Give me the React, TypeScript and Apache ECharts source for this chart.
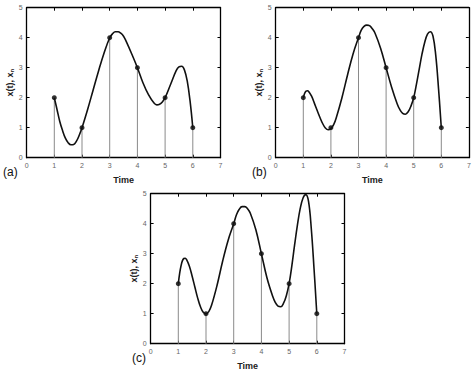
import React, { useEffect, useRef } from "react";
import * as echarts from "echarts";

const sampleT = [1, 2, 3, 4, 5, 6];
const sampleX = [2, 1, 4, 3, 2, 1];
const xTicks = [0, 1, 2, 3, 4, 5, 6, 7];
const yTicks = [0, 1, 2, 3, 4, 5];
const panelLabels = ["(a)", "(b)", "(c)"];

const curveA: number[][] = [
  [1.0, 2.0], [1.1, 1.6], [1.2, 1.2], [1.3, 0.9], [1.4, 0.65], [1.5, 0.5], [1.6, 0.43], [1.7, 0.44],
  [1.8, 0.55], [1.9, 0.75], [2.0, 1.0], [2.2, 1.6], [2.4, 2.25], [2.6, 2.9], [2.8, 3.5], [3.0, 4.0],
  [3.1, 4.13], [3.2, 4.2], [3.3, 4.2], [3.4, 4.15], [3.5, 4.05], [3.6, 3.87], [3.8, 3.45], [4.0, 3.0],
  [4.2, 2.5], [4.4, 2.1], [4.6, 1.82], [4.7, 1.76], [4.8, 1.78], [4.9, 1.86], [5.0, 2.0], [5.2, 2.45],
  [5.4, 2.9], [5.5, 3.03], [5.6, 3.05], [5.7, 2.92], [5.8, 2.55], [5.9, 1.9], [6.0, 1.0],
];

const curveB: number[][] = [
  [1.0, 2.0], [1.05, 2.15], [1.1, 2.22], [1.15, 2.23], [1.2, 2.2], [1.3, 2.05], [1.4, 1.82], [1.5, 1.58],
  [1.6, 1.35], [1.7, 1.14], [1.8, 0.99], [1.9, 0.93], [2.0, 0.97], [2.1, 1.1], [2.2, 1.35], [2.4, 2.0],
  [2.6, 2.75], [2.8, 3.45], [3.0, 4.0], [3.1, 4.25], [3.2, 4.38], [3.3, 4.42], [3.4, 4.4], [3.5, 4.3],
  [3.6, 4.15], [3.8, 3.65], [4.0, 3.0], [4.2, 2.35], [4.4, 1.8], [4.5, 1.6], [4.6, 1.48], [4.7, 1.45],
  [4.8, 1.53], [4.9, 1.72], [5.0, 2.0], [5.1, 2.45], [5.2, 2.95], [5.3, 3.45], [5.4, 3.85], [5.5, 4.12],
  [5.6, 4.2], [5.7, 4.05], [5.8, 3.4], [5.9, 2.3], [6.0, 1.0],
];

const curveC: number[][] = [
  [1.0, 2.0], [1.05, 2.35], [1.1, 2.6], [1.15, 2.77], [1.2, 2.84], [1.25, 2.85], [1.3, 2.8], [1.4, 2.58],
  [1.5, 2.25], [1.6, 1.88], [1.7, 1.52], [1.8, 1.23], [1.9, 1.05], [2.0, 1.0], [2.1, 1.07], [2.2, 1.28],
  [2.4, 1.95], [2.6, 2.75], [2.8, 3.45], [3.0, 4.0], [3.1, 4.3], [3.2, 4.48], [3.3, 4.57], [3.4, 4.57],
  [3.5, 4.5], [3.6, 4.35], [3.8, 3.8], [4.0, 3.0], [4.2, 2.2], [4.4, 1.6], [4.5, 1.38], [4.6, 1.25],
  [4.7, 1.23], [4.8, 1.35], [4.9, 1.6], [5.0, 2.0], [5.1, 2.6], [5.2, 3.3], [5.3, 3.95], [5.4, 4.5],
  [5.5, 4.85], [5.6, 4.97], [5.7, 4.75], [5.8, 3.85], [5.9, 2.5], [6.0, 1.0],
];

const curves = [curveA, curveB, curveC];

const grids = [
  { left: 26.6, top: 7.7, width: 193.9, height: 150 },
  { left: 275.7, top: 7.7, width: 193.2, height: 150 },
  { left: 150.6, top: 193.7, width: 193.9, height: 150 },
];

const labelPos = [
  { x: 3, y: 173 },
  { x: 252, y: 173 },
  { x: 132, y: 359 },
];

export default function App() {
  const ref = useRef<HTMLDivElement>(null);
  useEffect(() => {
    if (!ref.current) return;
    const chart = echarts.init(ref.current, null, { renderer: "svg" });
    const font = "Liberation Sans, Arial, sans-serif";
    const xAxis: any[] = [];
    const yAxis: any[] = [];
    const series: any[] = [];
    grids.forEach((g, i) => {
      const base = {
        type: "value",
        gridIndex: i,
        interval: 1,
        axisLine: { show: true, onZero: false, lineStyle: { color: "#000", width: 1.3 } },
        axisTick: { show: true, inside: true, length: 3, lineStyle: { color: "#000" } },
        splitLine: { show: false },
      };
      xAxis.push({
        ...base,
        min: xTicks[0],
        max: xTicks[xTicks.length - 1],
        position: "bottom",
        axisLabel: { fontSize: 7, color: "#666", margin: 4, fontFamily: font },
        name: "Time",
        nameLocation: "middle",
        nameGap: 18,
        nameTextStyle: { fontSize: 9, fontWeight: "bold", color: "#222", fontFamily: font },
      });
      xAxis.push({
        ...base,
        min: xTicks[0],
        max: xTicks[xTicks.length - 1],
        position: "top",
        axisLabel: { show: false },
      });
      yAxis.push({
        ...base,
        min: yTicks[0],
        max: yTicks[yTicks.length - 1],
        position: "left",
        axisLabel: { fontSize: 7, color: "#666", margin: 4, fontFamily: font },
        name: "{a|x(t), x}{s|n}",
        nameLocation: "middle",
        nameGap: 10,
        nameRotate: 90,
        nameTextStyle: {
          rich: {
            a: { fontSize: 9, fontWeight: "bold", color: "#222", fontFamily: font },
            s: { fontSize: 6, fontWeight: "bold", color: "#222", fontFamily: font, verticalAlign: "bottom", padding: [4, 0, 0, 0] },
          },
        },
      });
      yAxis.push({
        ...base,
        min: yTicks[0],
        max: yTicks[yTicks.length - 1],
        position: "right",
        axisLabel: { show: false },
      });
      series.push({
        type: "bar",
        xAxisIndex: i * 2,
        yAxisIndex: i * 2,
        barWidth: 1,
        itemStyle: { color: "#8a8a8a" },
        data: sampleT.map((t, k) => [t, sampleX[k]]),
        silent: true,
      });
      series.push({
        type: "line",
        xAxisIndex: i * 2,
        yAxisIndex: i * 2,
        data: curves[i],
        smooth: 0.4,
        showSymbol: false,
        lineStyle: { color: "#111", width: 1.6 },
        silent: true,
      });
      series.push({
        type: "scatter",
        xAxisIndex: i * 2,
        yAxisIndex: i * 2,
        data: sampleT.map((t, k) => [t, sampleX[k]]),
        symbolSize: 5,
        itemStyle: { color: "#000" },
        silent: true,
      });
    });
    chart.setOption({
      animation: false,
      backgroundColor: "#fff",
      grid: grids.map((g) => ({ ...g, containLabel: false })),
      xAxis,
      yAxis,
      series,
      graphic: panelLabels.map((t, i) => ({
        type: "text",
        left: labelPos[i].x,
        top: labelPos[i].y - 7,
        style: { text: t, fontSize: 12, fill: "#111", fontFamily: font },
      })),
    });
    return () => chart.dispose();
  }, []);
  return (
    <div
      ref={ref}
      style={{ position: "fixed", left: 0, top: 0, width: 474, height: 372 }}
    />
  );
}
